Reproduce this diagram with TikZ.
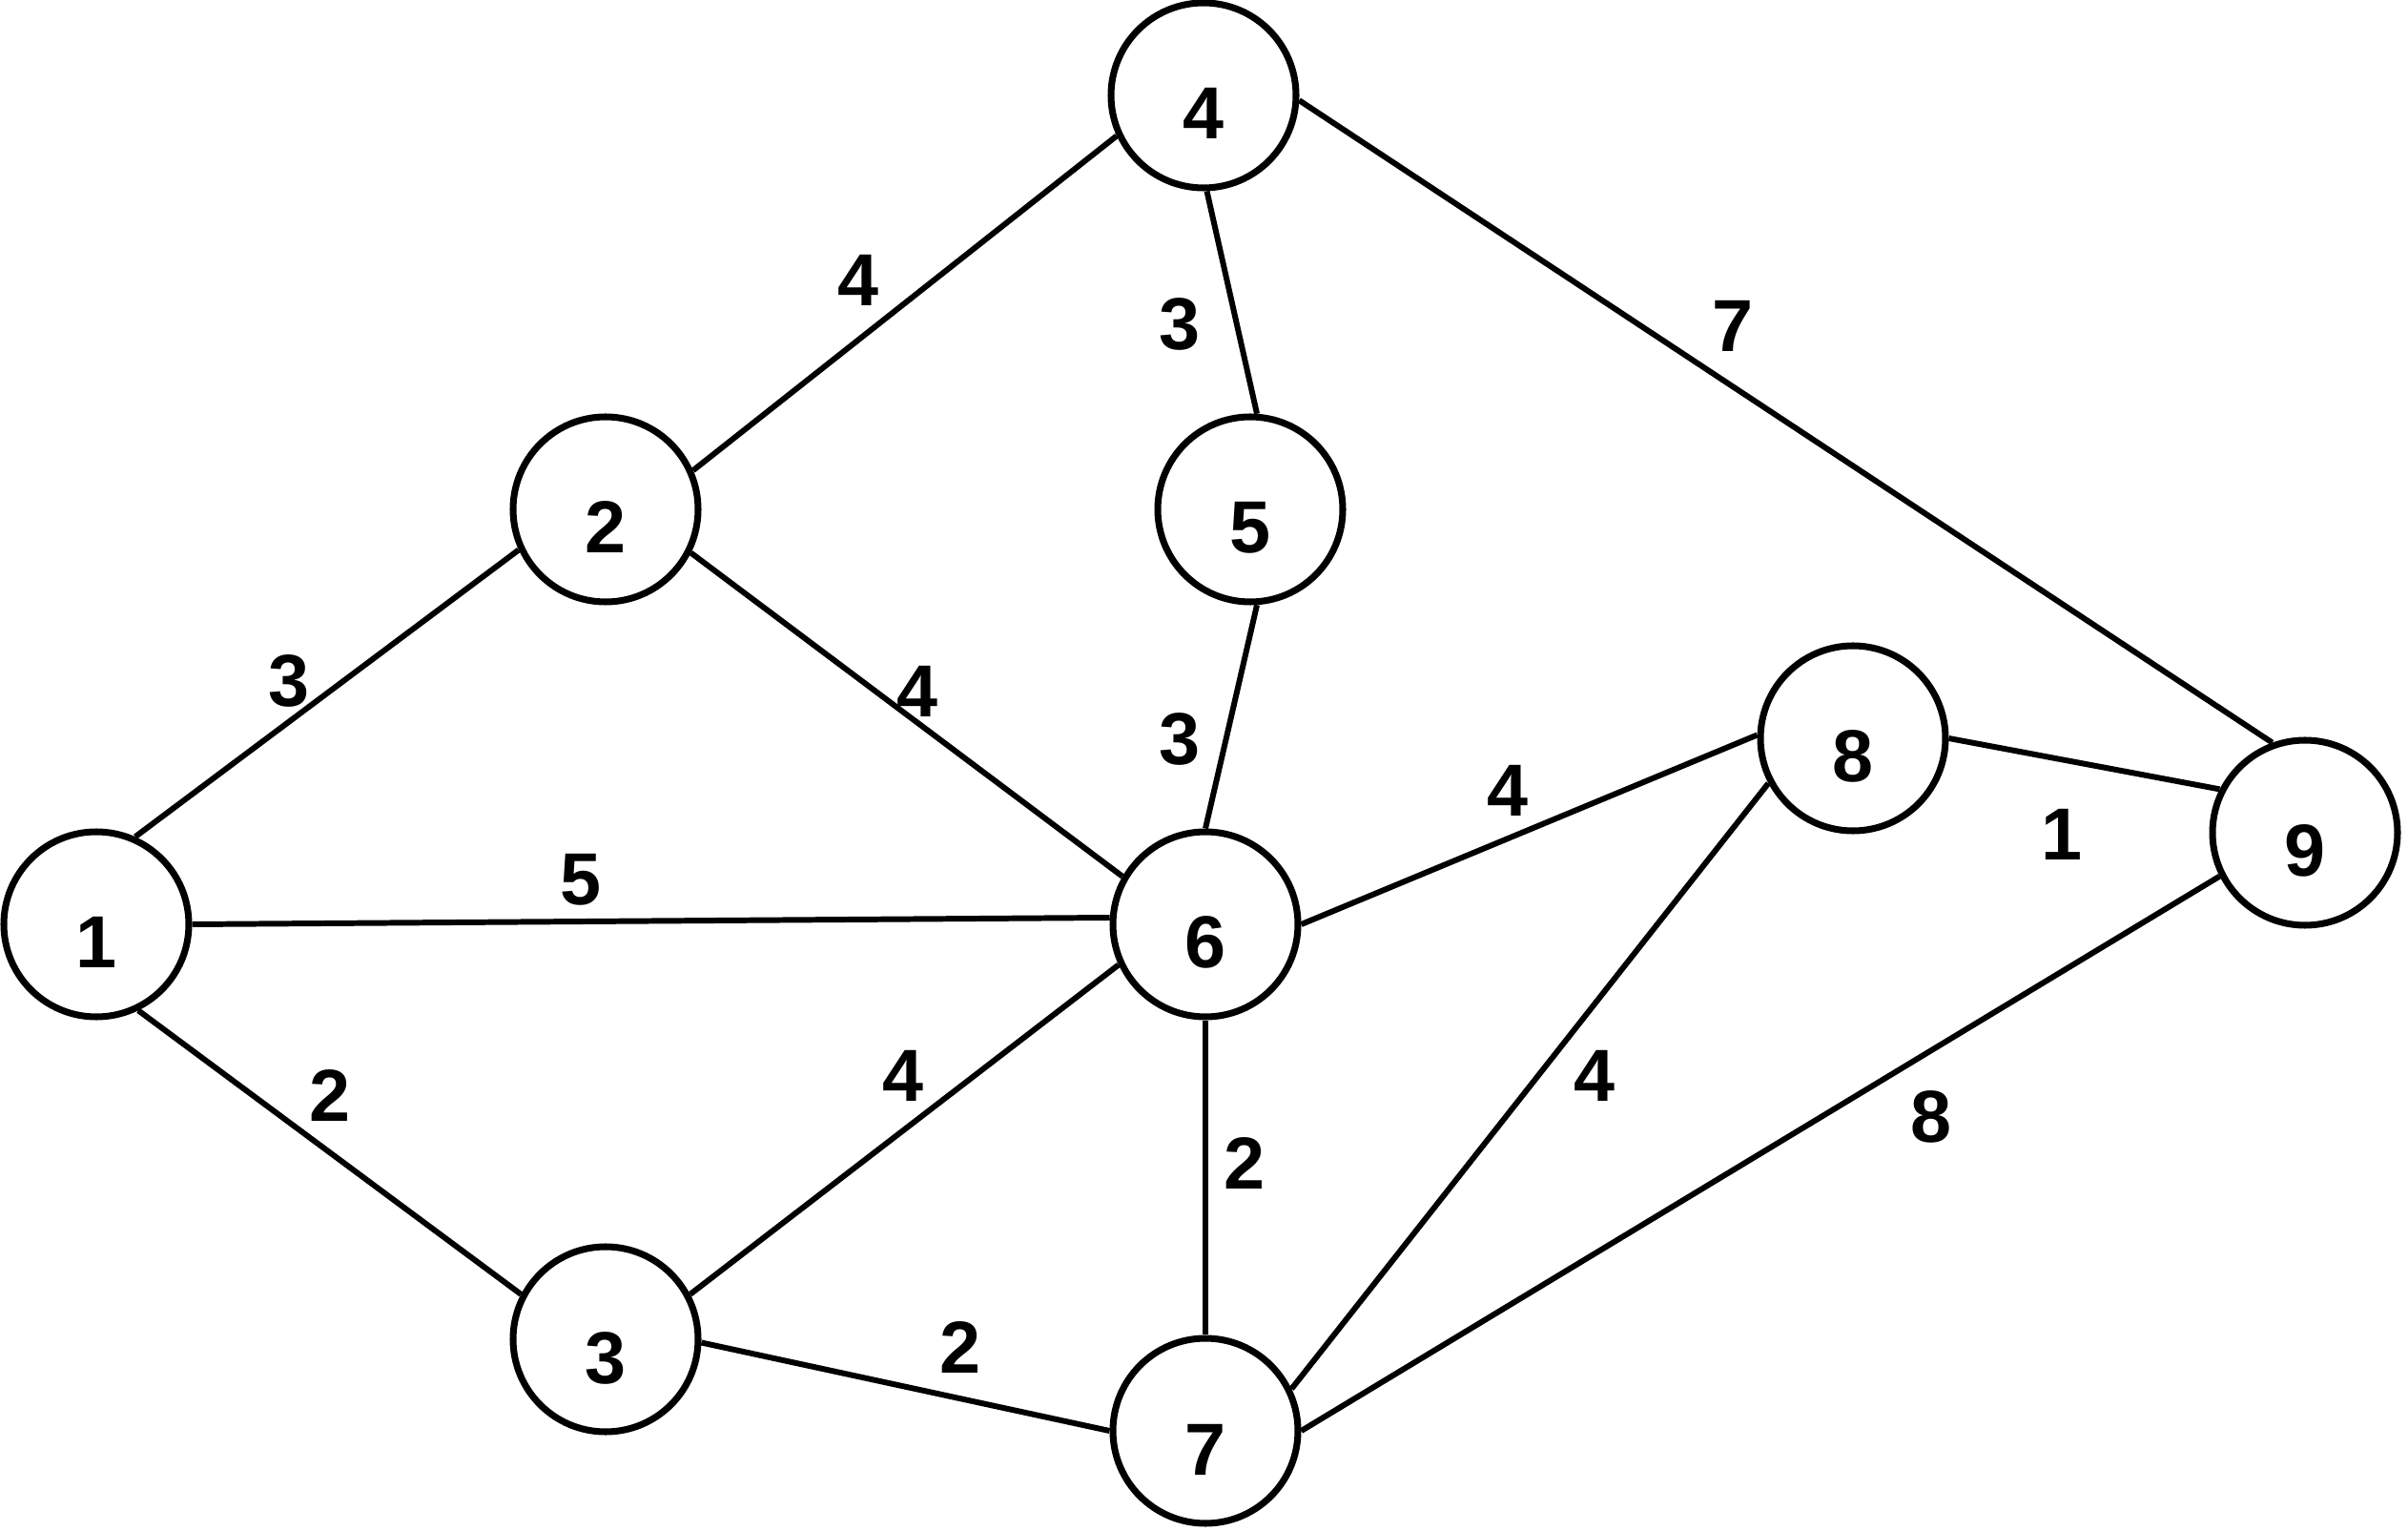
\documentclass[tikz,border=0pt]{standalone}
\usepackage{fontspec}
\setmainfont{Liberation Sans}
\begin{document}
\begin{tikzpicture}[
  vtx/.style={circle, draw=black, line width=2pt, fill=white, minimum size=1.94cm, inner sep=0pt,
    text height=0.92cm, text depth=0pt,
    font=\fontsize{22}{26}\selectfont\bfseries},
  lbl/.style={inner sep=0pt, font=\fontsize{22}{26}\selectfont\bfseries},
  edge/.style={line width=1.7pt}
]
\useasboundingbox (0,0) rectangle (25.25,16.04);
\node[vtx] (n1) at (1.01,6.35) {1};
\node[vtx] (n2) at (6.35,10.70) {2};
\node[vtx] (n3) at (6.35,2.00) {3};
\node[vtx] (n4) at (12.62,15.04) {4};
\node[vtx] (n5) at (13.11,10.70) {5};
\node[vtx] (n6) at (12.64,6.35) {6};
\node[vtx] (n7) at (12.64,1.04) {7};
\node[vtx] (n8) at (19.43,8.30) {8};
\node[vtx] (n9) at (24.17,7.31) {9};

\draw[edge] (n1.66) -- (n2.205);
\draw[edge] (n1.-64) -- (n3.152);
\draw[edge] (n1.0) -- (n6.176);
\draw[edge] (n2.24) -- (n4.205);
\draw[edge] (n2.-27) -- (n6.150);
\draw[edge] (n3.28) -- (n6.205);
\draw[edge] (n3.-2) -- (n7.180);
\draw[edge] (n4.-88) -- (n5.86);
\draw[edge] (n4.-3) -- (n9.110);
\draw[edge] (n5.-86) -- (n6.90);
\draw[edge] (n6.-90) -- (n7.90);
\draw[edge] (n6.0) -- (n8.178);
\draw[edge] (n7.26) -- (n8.208);
\draw[edge] (n7.0) -- (n9.207);
\draw[edge] (n8.0) -- (n9.153);

\node[lbl] (l24) at (9.00,13.10) {4};
\node[lbl] (l45) at (12.37,12.64) {3};
\node[lbl] (l49) at (18.17,12.62) {7};
\node[lbl] (l12) at (3.03,8.90) {3};
\node[lbl] (l26) at (9.62,8.79) {4};
\node[lbl] (l56) at (12.37,8.29) {3};
\node[lbl] (l68) at (15.81,7.75) {4};
\node[lbl] (l89) at (21.62,7.29) {1};
\node[lbl] (l16) at (6.09,6.82) {5};
\node[lbl] (l13) at (3.46,4.55) {2};
\node[lbl] (l36) at (9.47,4.76) {4};
\node[lbl] (l78) at (16.72,4.76) {4};
\node[lbl] (l79) at (20.25,4.33) {8};
\node[lbl] (l67) at (13.05,3.84) {2};
\node[lbl] (l37) at (10.07,1.91) {2};
\end{tikzpicture}
\end{document}
